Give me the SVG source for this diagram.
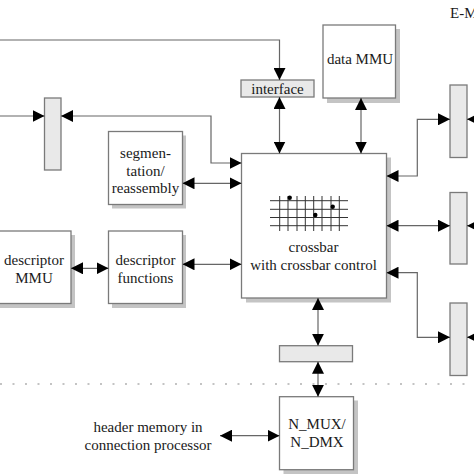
<svg xmlns="http://www.w3.org/2000/svg" width="474" height="474" viewBox="0 0 474 474" font-family="'Liberation Serif', serif" font-size="15">
<defs>
<marker id="ah" viewBox="0 0 12 12" refX="12" refY="6" markerWidth="12" markerHeight="12" markerUnits="userSpaceOnUse" orient="auto-start-reverse">
<path d="M0,0 L12,6 L0,12 z" fill="#000"/>
</marker>
</defs>
<style>
.box{fill:#fff;stroke:#7a7a7a;stroke-width:1.3}
.sh{fill:#c4c4c4}
.bar{fill:#e9e9e9;stroke:#7a7a7a;stroke-width:1.3}
.t{fill:#1a1a1a;text-anchor:middle}
.c{fill:none;stroke:#666;stroke-width:1.2}
.g{stroke:#333;stroke-width:1}
</style>
<rect width="474" height="474" fill="#fff"/>
<text x="450" y="18" fill="#1a1a1a" font-family="'Liberation Serif', serif" font-size="15">E-M</text>
<line x1="0" y1="384" x2="474" y2="384" stroke="#888" stroke-width="1.2" stroke-dasharray="2 10.5"/>

<g id="data-mmu">
<rect class="sh" x="327" y="29" width="73" height="74"/>
<rect class="box" x="323" y="25" width="72.5" height="73"/>
<text class="t" x="360" y="64" font-family="'Liberation Serif', serif" font-size="15">data MMU</text>
</g>
<g id="interface">
<rect class="bar" x="241" y="80" width="73" height="17"/>
<text class="t" x="277.5" y="94" font-family="'Liberation Serif', serif" font-size="15">interface</text>
</g>
<g id="left-bar">
<rect class="bar" x="44.5" y="98" width="16.5" height="72"/>
</g>
<g id="segmentation" font-family="'Liberation Serif', serif" font-size="15">
<rect class="sh" x="112" y="135.5" width="74" height="73"/>
<rect class="box" x="108.5" y="131.5" width="74" height="73"/>
<text class="t" x="145.5" y="158">segmen-</text>
<text class="t" x="145.5" y="175.5">tation/</text>
<text class="t" x="145.5" y="193">reassembly</text>
</g>
<g id="descriptor-mmu" font-family="'Liberation Serif', serif" font-size="15">
<rect class="sh" x="-5" y="235" width="80" height="73"/>
<rect class="box" x="-9" y="231" width="80" height="72.5"/>
<text class="t" x="34" y="265">descriptor</text>
<text class="t" x="34" y="282.5">MMU</text>
</g>
<g id="descriptor-functions" font-family="'Liberation Serif', serif" font-size="15">
<rect class="sh" x="112" y="235" width="74" height="73"/>
<rect class="box" x="108.5" y="231" width="74" height="72.5"/>
<text class="t" x="145.5" y="265">descriptor</text>
<text class="t" x="145.5" y="282.5">functions</text>
</g>
<g id="crossbar" font-family="'Liberation Serif', serif" font-size="15">
<rect class="sh" x="246" y="157.5" width="145" height="145"/>
<rect class="box" x="241.5" y="153.5" width="145" height="144.5"/>
<g class="g">
<line x1="270" y1="200.7" x2="348" y2="200.7"/>
<line x1="270" y1="209.3" x2="348" y2="209.3"/>
<line x1="270" y1="217.5" x2="348" y2="217.5"/>
<line x1="270" y1="225.7" x2="348" y2="225.7"/>
<line x1="279.7" y1="196" x2="279.7" y2="231"/>
<line x1="288" y1="196" x2="288" y2="231"/>
<line x1="297" y1="196" x2="297" y2="231"/>
<line x1="305.3" y1="196" x2="305.3" y2="231"/>
<line x1="313.7" y1="196" x2="313.7" y2="231"/>
<line x1="322" y1="196" x2="322" y2="231"/>
<line x1="331" y1="196" x2="331" y2="231"/>
<line x1="339.3" y1="196" x2="339.3" y2="231"/>
</g>
<circle cx="289.7" cy="197.7" r="2.2" fill="#000"/>
<circle cx="315.3" cy="215" r="2.2" fill="#000"/>
<circle cx="332.7" cy="206.7" r="2.2" fill="#000"/>
<text class="t" x="313.5" y="252">crossbar</text>
<text class="t" x="313.5" y="270">with crossbar control</text>
</g>
<g id="right-bar-1"><rect class="bar" x="450" y="85" width="17" height="72.5"/></g>
<g id="right-bar-2"><rect class="bar" x="450" y="192.5" width="17" height="71.5"/></g>
<g id="right-bar-3"><rect class="bar" x="450" y="303" width="17" height="72.5"/></g>
<g id="bottom-bar"><rect class="bar" x="279.5" y="345.7" width="73" height="16"/></g>
<g id="nmux" font-family="'Liberation Serif', serif" font-size="15">
<rect class="sh" x="283.5" y="400.5" width="74.5" height="73.5"/>
<rect class="box" x="279.5" y="396.7" width="74" height="73"/>
<text class="t" x="317" y="429">N_MUX/</text>
<text class="t" x="317" y="446.5">N_DMX</text>
</g>
<g id="header-memory" font-family="'Liberation Serif', serif" font-size="15">
<text class="t" x="148" y="432">header memory in</text>
<text class="t" x="148" y="449.5">connection processor</text>
</g>

<g id="connectors" class="c">
<path d="M0,40 H279.5 V80" marker-end="url(#ah)"/>
<path d="M279.5,97 V153.5" marker-start="url(#ah)" marker-end="url(#ah)"/>
<path d="M361,98 V153.5" marker-start="url(#ah)" marker-end="url(#ah)"/>
<path d="M0,116 H44.5" marker-end="url(#ah)"/>
<path d="M61,116 H211 V163 H241.5" marker-start="url(#ah)" marker-end="url(#ah)"/>
<path d="M182.5,183.3 H241.5" marker-start="url(#ah)" marker-end="url(#ah)"/>
<path d="M71,268.3 H108.5" marker-start="url(#ah)" marker-end="url(#ah)"/>
<path d="M182.5,264.3 H241.5" marker-start="url(#ah)" marker-end="url(#ah)"/>
<path d="M386.5,176 H417.3 V119.3 H450" marker-start="url(#ah)" marker-end="url(#ah)"/>
<path d="M386.5,225.7 H450" marker-start="url(#ah)" marker-end="url(#ah)"/>
<path d="M386.5,272.7 H417.3 V337.3 H450" marker-start="url(#ah)" marker-end="url(#ah)"/>
<path d="M480,119.3 H467" marker-end="url(#ah)"/>
<path d="M480,225.7 H467" marker-end="url(#ah)"/>
<path d="M480,337.3 H467" marker-end="url(#ah)"/>
<path d="M318,298 V345.7" marker-start="url(#ah)" marker-end="url(#ah)"/>
<path d="M318,361.7 V396.7" marker-start="url(#ah)" marker-end="url(#ah)"/>
<path d="M220,435.7 H279.5" marker-start="url(#ah)" marker-end="url(#ah)"/>
</g>
</svg>
